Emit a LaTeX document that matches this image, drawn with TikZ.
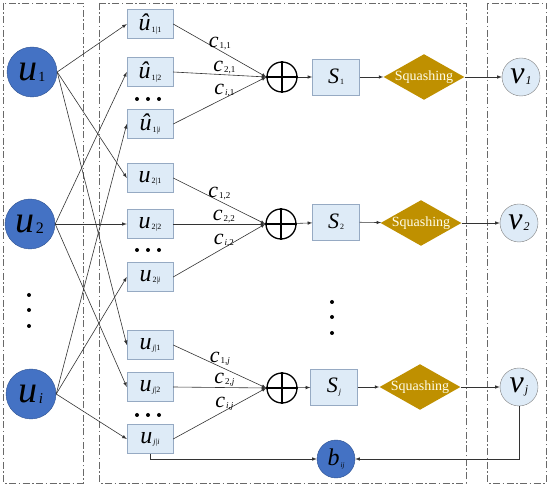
\documentclass[tikz,border=0pt]{standalone}
\usepackage{fontspec}
\setmainfont{Liberation Serif}
\usetikzlibrary{shapes.geometric}

\definecolor{inblue}{RGB}{68,114,196}
\definecolor{inedge}{RGB}{47,82,143}
\definecolor{boxfill}{RGB}{222,235,247}
\definecolor{boxedge}{RGB}{150,170,195}
\definecolor{squashcol}{RGB}{191,144,0}
\definecolor{framecol}{RGB}{105,105,105}

\newcommand{\symlbl}[4]{{\fontsize{#1}{#1}\selectfont\itshape #2}\kern1pt\raisebox{-0.12em}{\fontsize{#3}{#3}\selectfont #4}}

\tikzset{
  incirc/.style={circle, draw=inedge, fill=inblue, minimum size=50pt, inner sep=0pt},
  ubox/.style={draw=boxedge, fill=boxfill, minimum width=46pt, minimum height=29pt, inner sep=0pt},
  sumnode/.style={circle, draw=black, line width=1.3pt, minimum size=30pt, inner sep=0pt},
  sbox/.style={draw=boxedge, fill=boxfill, minimum width=47pt, minimum height=36pt, inner sep=0pt},
  squash/.style={diamond, fill=squashcol, minimum width=78pt, minimum height=44pt, inner sep=0pt, aspect=1.77, text=white!92!yellow, font=\fontsize{14}{14}\selectfont},
  outcirc/.style={circle, draw=gray, fill=boxfill, minimum size=38pt, inner sep=0pt},
  groupframe/.style={draw=framecol, line width=0.9pt, dash pattern=on 7pt off 2.5pt on 1.5pt off 2.5pt},
  link/.style={draw=black!80, line width=0.6pt, -latex},
  blackdot/.style={circle, fill=black, minimum size=4pt, inner sep=0pt},
  coef/.style={above, inner sep=0.5pt, pos=0.55}
}

\begin{document}
\begin{tikzpicture}[x=1pt, y=-1pt]
\fill [color=white,opacity=0] (0, 0) rectangle (550, 489);

% frames
\draw [groupframe] (3, 3) rectangle (83, 483);
\draw [groupframe] (99, 3) rectangle (466, 483);
\draw [groupframe] (487, 3) rectangle (546, 483);

% inputs
\node (u1) at (32, 72) [incirc] {\symlbl{38}{u}{14}{1}};
\node (u2) at (30, 224) [incirc] {\symlbl{38}{u}{16}{2}};
\node (ui) at (31, 394) [incirc] {\symlbl{38}{u}{15}{\textit{i}}};
\foreach \y [count=\k] in {295, 310, 326}
  \node (ldot\k) at (29, \y) [blackdot] {};

% prediction boxes
\node (u11) at (150, 24) [ubox] {\symlbl{24}{\^u}{8}{1|1}};
\node (u12) at (150, 72) [ubox] {\symlbl{24}{\^u}{8}{1|2}};
\node (u1i) at (150, 124) [ubox] {\symlbl{24}{\^u}{8}{1|\textit{i}}};
\node (u21) at (150, 178) [ubox] {\symlbl{24}{u}{8}{2|1}};
\node (u22) at (150, 224) [ubox] {\symlbl{24}{u}{8}{2|2}};
\node (u2i) at (150, 277) [ubox] {\symlbl{24}{u}{8}{2|\textit{i}}};
\node (uj1) at (150, 345) [ubox] {\symlbl{24}{u}{8}{\textit{j}|1}};
\node (uj2) at (150, 387) [ubox] {\symlbl{24}{u}{8}{\textit{j}|2}};
\node (uji) at (150, 439) [ubox] {\symlbl{24}{u}{8}{\textit{j}|\textit{i}}};
\foreach \y in {99, 250, 415}
  \foreach \x in {137, 148, 159}
    \node (hdot\x-\y) at (\x, \y) [blackdot] {};

\draw [link] (u1.east) -- (u11.west);
\draw [link] (u1.east) -- (u21.west);
\draw [link] (u1.east) -- (uj1.west);
\draw [link] (u2.east) -- (u12.west);
\draw [link] (u2.east) -- (u22.west);
\draw [link] (u2.east) -- (uj2.west);
\draw [link] (ui.east) -- (u1i.west);
\draw [link] (ui.east) -- (u2i.west);
\draw [link] (ui.east) -- (uji.west);

% weighted sums
\node (p1) at (282, 77) [sumnode] {};
\node (p2) at (281, 224) [sumnode] {};
\node (pj) at (282, 388) [sumnode] {};
\foreach \p in {p1, p2, pj}
  \draw [line width=1.3pt] (\p.north) -- (\p.south) (\p.west) -- (\p.east);

\draw [link] (u11.east) -- (p1.west) node [coef, pos=0.5] {\symlbl{22}{c}{9}{1,1}};
\draw [link] (u12.east) -- (p1.west) node [coef] {\symlbl{22}{c}{9}{2,1}};
\draw [link] (u1i.east) -- (p1.west) node [coef] {\symlbl{22}{c}{9}{\textit{i},1}};
\draw [link] (u21.east) -- (p2.west) node [coef, pos=0.5] {\symlbl{22}{c}{9}{1,2}};
\draw [link] (u22.east) -- (p2.west) node [coef] {\symlbl{22}{c}{9}{2,2}};
\draw [link] (u2i.east) -- (p2.west) node [coef] {\symlbl{22}{c}{9}{\textit{i},2}};
\draw [link] (uj1.east) -- (pj.west) node [coef, pos=0.5] {\symlbl{22}{c}{9}{1,\textit{j}}};
\draw [link] (uj2.east) -- (pj.west) node [coef] {\symlbl{22}{c}{9}{2,\textit{j}}};
\draw [link] (uji.east) -- (pj.west) node [coef] {\symlbl{22}{c}{9}{\textit{i},\textit{j}}};

% s, squashing, v
\node (s1) at (336, 77) [sbox] {\symlbl{22}{S}{8}{1}};
\node (s2) at (336, 222) [sbox] {\symlbl{22}{S}{8}{2}};
\node (sj) at (334, 387) [sbox] {\symlbl{22}{S}{8}{\textit{j}}};
\foreach \y [count=\k] in {302, 317, 333}
  \node (mdot\k) at (332, \y) [blackdot] {};

\node (q1) at (424, 77) [squash] {Squashing};
\node (q2) at (421, 223) [squash] {Squashing};
\node (qj) at (420, 387) [squash] {Squashing};

\node (v1) at (521, 77) [outcirc] {\symlbl{32}{v}{12}{\textit{1}}};
\node (v2) at (519, 223) [outcirc] {\symlbl{32}{v}{12}{\textit{2}}};
\node (vj) at (519, 387) [outcirc] {\symlbl{32}{v}{12}{\textit{j}}};

\draw [link] (p1) -- (s1);
\draw [link] (s1) -- (q1);
\draw [link] (q1) -- (v1);
\draw [link] (p2) -- (s2);
\draw [link] (s2) -- (q2);
\draw [link] (q2) -- (v2);
\draw [link] (pj) -- (sj);
\draw [link] (sj) -- (qj);
\draw [link] (qj) -- (vj);

% routing logits
\node (b) at (336, 459) [incirc, minimum size=38pt] {\symlbl{24}{b}{7}{\textit{ij}}};
\draw [link] (uji.south) |- (b);
\draw [link] (vj.south) |- (b);
\end{tikzpicture}
\end{document}
